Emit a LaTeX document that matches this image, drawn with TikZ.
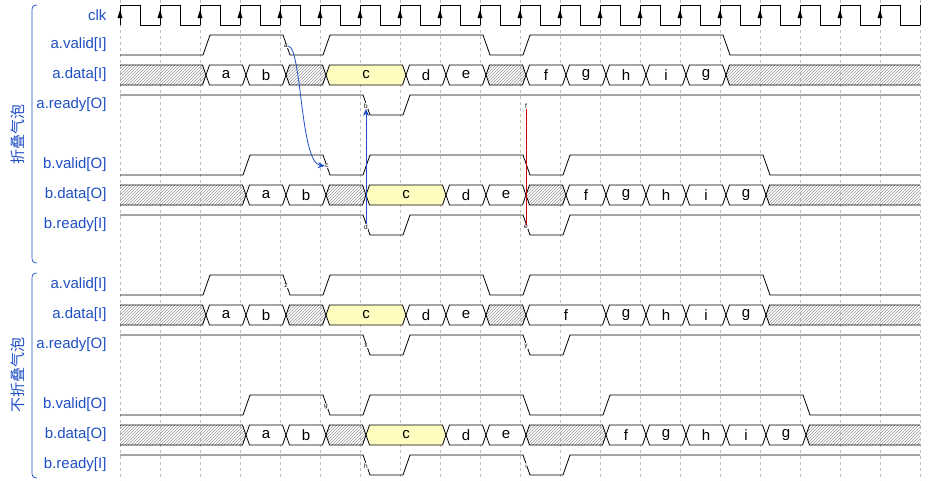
\documentclass[tikz,border=0pt]{standalone}
\usepackage{fontspec}
\setmainfont{Liberation Sans}
\newfontfamily\cjk{Noto Sans CJK SC}
\usetikzlibrary{patterns,arrows.meta}
\definecolor{lblue}{HTML}{1F4FC4}
\tikzset{
 wave/.style={line width=0.8pt},
 hb/.style={draw,line width=0.8pt,pattern=north east lines,pattern color=gray!80},
 wb/.style={draw,line width=0.8pt,fill=white},
 yb/.style={draw,line width=0.8pt,fill=yellow!25},
 sig/.style={anchor=east,text=lblue,font=\fontsize{15}{15}\selectfont},
 tag/.style={font=\fontsize{6.5}{6.5}\selectfont,inner sep=0.3pt},
 grp/.style={text=lblue,rotate=90,font=\cjk\fontsize{15}{15}\selectfont},
}
\newcommand\busrow[3]{%
 \begin{scope}
 \clip (120,#1-2) rectangle (920,#1+22);
 \foreach \a/\b/\s/\l in {#3}{
   \draw[\s] (\a,#1+10)--(\a+3.5,#1)--(\b-3.5,#1)--(\b,#1+10)--(\b-3.5,#1+20)--(\a+3.5,#1+20)--cycle;
   \node[font=\fontsize{15}{15}\selectfont] (#2\a) at ({(\a+\b)/2},#1+10) {\l};}
 \end{scope}}
\begin{document}
\begin{tikzpicture}[x=1pt,y=-1pt]
\useasboundingbox (0,0) rectangle (940,480);
% grid
\foreach \k in {0,...,20} \draw[gray!50,dashed,line width=0.5pt] (120+40*\k,0)--(120+40*\k,480);
% labels
\node[sig] (lclk) at (110,15) {clk};
\foreach \o/\g in {0/t,240/u}{
 \node[sig] (\g av) at (110,45+\o) {a.valid[I]};
 \node[sig] (\g ad) at (110,75+\o) {a.data[I]};
 \node[sig] (\g ar) at (110,105+\o) {a.ready[O]};
 \node[sig] (\g bv) at (110,165+\o) {b.valid[O]};
 \node[sig] (\g bd) at (110,195+\o) {b.data[O]};
 \node[sig] (\g br) at (110,225+\o) {b.ready[I]};
}
% braces
\draw[lblue,line width=0.7pt] (37,5) .. controls (32,5) and (32,8) .. (32,12) -- (32,256) .. controls (32,260) and (32,263) .. (37,263);
\draw[lblue,line width=0.7pt] (37,273) .. controls (32,273) and (32,276) .. (32,280) -- (32,471) .. controls (32,475) and (32,478) .. (37,478);
\node[grp] (g1) at (18,134) {折叠气泡};
\node[grp] (g2) at (18,375) {不折叠气泡};
% clock
\foreach \k in {0,...,19}{
 \draw[wave] (120+40*\k,25)--(120+40*\k,5)--(140+40*\k,5)--(140+40*\k,25)--(160+40*\k,25);
 \fill (117.5+40*\k,18)--(122.5+40*\k,18)--(120+40*\k,10)--cycle;}
\draw[wave] (920,25)--(920,5);
% top group
\draw[wave] (120,55)--(203,55)--(210,35)--(283,35)--(290,55)--(323,55)--(330,35)--(483,35)--(490,55)--(523,55)--(530,35)--(723,35)--(730,55)--(920,55);
\busrow{65}{ta}{116.5/206/hb/,206/246/wb/a,246/286/wb/b,286/326/hb/,326/406/yb/c,406/446/wb/d,446/486/wb/e,486/526/hb/,526/566/wb/f,566/606/wb/g,606/646/wb/h,646/686/wb/i,686/726/wb/g,726/923.5/hb/}
\draw[wave] (120,95)--(363,95)--(370,115)--(403,115)--(410,95)--(920,95);
\draw[wave] (120,175)--(243,175)--(250,155)--(323,155)--(330,175)--(363,175)--(370,155)--(523,155)--(530,175)--(563,175)--(570,155)--(763,155)--(770,175)--(920,175);
\busrow{185}{tb}{116.5/246/hb/,246/286/wb/a,286/326/wb/b,326/366/hb/,366/446/yb/c,446/486/wb/d,486/526/wb/e,526/566/hb/,566/606/wb/f,606/646/wb/g,646/686/wb/h,686/726/wb/i,726/766/wb/g,766/923.5/hb/}
\draw[wave] (120,215)--(363,215)--(370,235)--(403,235)--(410,215)--(523,215)--(530,235)--(563,235)--(570,215)--(920,215);
% bottom group
\draw[wave] (120,295)--(203,295)--(210,275)--(283,275)--(290,295)--(323,295)--(330,275)--(483,275)--(490,295)--(523,295)--(530,275)--(763,275)--(770,295)--(920,295);
\busrow{305}{ua}{116.5/206/hb/,206/246/wb/a,246/286/wb/b,286/326/hb/,326/406/yb/c,406/446/wb/d,446/486/wb/e,486/526/hb/,526/606/wb/f,606/646/wb/g,646/686/wb/h,686/726/wb/i,726/766/wb/g,766/923.5/hb/}
\draw[wave] (120,335)--(363,335)--(370,355)--(403,355)--(410,335)--(523,335)--(530,355)--(563,355)--(570,335)--(920,335);
\draw[wave] (120,415)--(243,415)--(250,395)--(323,395)--(330,415)--(363,415)--(370,395)--(523,395)--(530,415)--(603,415)--(610,395)--(803,395)--(810,415)--(920,415);
\busrow{425}{ub}{116.5/246/hb/,246/286/wb/a,286/326/wb/b,326/366/hb/,366/446/yb/c,446/486/wb/d,486/526/wb/e,526/606/hb/,606/646/wb/f,646/686/wb/g,686/726/wb/h,726/766/wb/i,766/806/wb/g,806/923.5/hb/}
\draw[wave] (120,455)--(363,455)--(370,475)--(403,475)--(410,455)--(523,455)--(530,475)--(563,475)--(570,455)--(920,455);
% tags
\node[tag,fill=white] (na) at (286,46) {a};
\node[tag,fill=white] (nc) at (327,166) {c};
\node[tag,fill=white] (nb) at (366,106) {b};
\node[tag,fill=white] (nd) at (366,227) {d};
\node[tag,fill=white] (nf) at (526,106) {f};
\node[tag,fill=white] (ne) at (526,227) {e};
\node[tag,fill=white] (nz) at (286,286) {z};
\node[tag,fill=white] (nx) at (366,346) {x};
\node[tag,fill=white] (ny) at (526,346) {y};
\node[tag,fill=white] (ng) at (326,406) {g};
\node[tag,fill=white] (nh) at (366,466) {h};
\node[tag,fill=white] (ni) at (526,466) {i};
% connectors
\draw[lblue,line width=0.8pt,-{Stealth[length=7pt,width=6pt]}] (na.east) .. controls (302,48) and (300,163) .. (nc.west);
\draw[lblue,line width=0.8pt,-{Stealth[length=7pt,width=6pt]}] (nd.north) -- (nb.south);
\draw[red!85!black,line width=0.8pt] (nf.south) -- (ne.north);
\end{tikzpicture}
\end{document}
